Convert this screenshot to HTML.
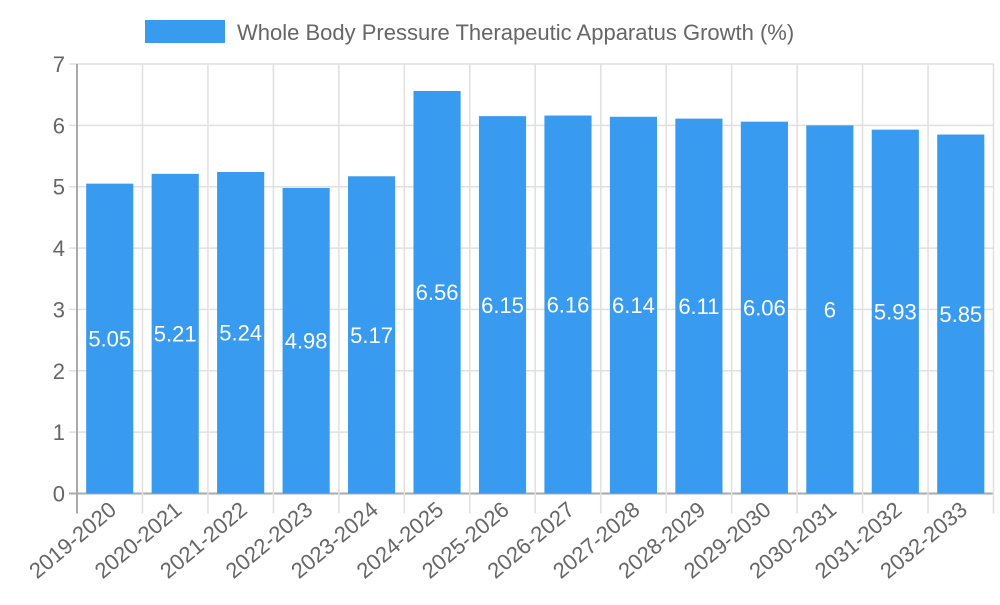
<!DOCTYPE html>
<html><head><meta charset="utf-8"><style>
body{margin:0;background:#fff;font-family:"Liberation Sans",sans-serif}
svg text{font-family:"Liberation Sans",sans-serif}
</style></head><body>
<svg width="1000" height="600" xmlns="http://www.w3.org/2000/svg">
<rect x="145" y="20" width="80" height="23" fill="#389bef"/>
<text x="237" y="40" font-size="22" fill="#666">Whole Body Pressure Therapeutic Apparatus Growth (%)</text>
<g id="grid"></g><g id="bars"></g><g id="labels"></g>
</svg>
<script>
const categories=["2019-2020","2020-2021","2021-2022","2022-2023","2023-2024","2024-2025","2025-2026","2026-2027","2027-2028","2028-2029","2029-2030","2030-2031","2031-2032","2032-2033"];
const values=[5.05,5.21,5.24,4.98,5.17,6.56,6.15,6.16,6.14,6.11,6.06,6,5.93,5.85];
const yTicks=[0,1,2,3,4,5,6,7];
const L=77,R=993.5,T=64,B=493.5,yMax=7;
const ns="http://www.w3.org/2000/svg";
const cw=(R-L)/categories.length;
const y=v=>B-(v/yMax)*(B-T);
const x=i=>L+i*cw;
function mk(tag,at,parent,txt){const e=document.createElementNS(ns,tag);for(const k in at)e.setAttribute(k,at[k]);if(txt!==undefined)e.textContent=txt;document.getElementById(parent).appendChild(e);return e;}
yTicks.forEach(t=>{
 const ln=mk('line',{x1:L-20+12,x2:R,y1:y(t),y2:y(t),stroke:t===0?'#aaa':'#e0e0e0','stroke-width':t===0?2:1.5},'grid');
 
 
 const tx=mk('text',{x:L-12,y:y(t)+8,'text-anchor':'end','font-size':22,fill:'#666'},'grid',String(t));
 
 
});
for(let i=0;i<=categories.length;i++){
 const ln=mk('line',{x1:x(i),x2:x(i),y1:T,y2:B+20,stroke:i===0?'#aaa':'#e0e0e0','stroke-width':i===0?2:1.5},'grid');
 
 
}
const bw=cw*0.72;
categories.forEach((c,i)=>{
 const cx=x(i)+cw/2;
 const r=mk('rect',{x:cx-bw/2,y:y(values[i]),width:bw,height:B-y(values[i]),fill:'#389bef'},'bars');
 
 
 const v=mk('text',{x:cx,y:(y(values[i])+B)/2+8,'text-anchor':'middle','font-size':22,fill:'#fff'},'labels',String(values[i]));
 
 
 const t=mk('text',{x:cx+8,y:512,'text-anchor':'end','font-size':22,fill:'#666',transform:`rotate(-40 ${cx+8} 512)`},'labels',c);
 
 
});
</script>
</body></html>
